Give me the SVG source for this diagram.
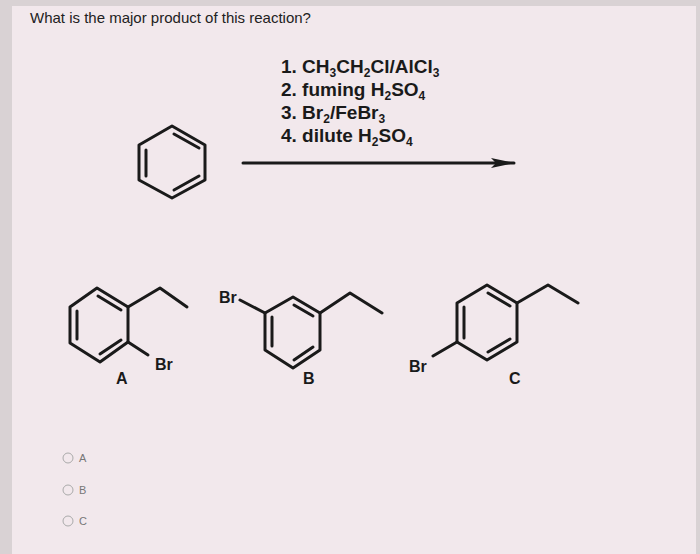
<svg xmlns="http://www.w3.org/2000/svg" width="700" height="554" viewBox="0 0 700 554">
<style>
.b{stroke:#1a1a1a;stroke-width:3;fill:none;stroke-linejoin:round;stroke-linecap:round}
.r{font-family:"Liberation Sans",Arial,sans-serif;font-weight:bold;font-size:19px;fill:#1a1a1a}
.s{font-size:12px}
.l{font-family:"Liberation Sans",Arial,sans-serif;font-weight:bold;font-size:16px;fill:#1a1a1a}
.q{font-family:"Liberation Sans",Arial,sans-serif;font-size:15px;fill:#222}
.o{font-family:"Liberation Sans",Arial,sans-serif;font-size:11px;fill:#777}
</style>
<defs><marker id="ah" markerWidth="24" markerHeight="10" refX="23" refY="5" orient="auto" markerUnits="userSpaceOnUse"><path d="M0,0 L24,5 L0,10 L5,5 Z" fill="#1a1a1a"/></marker></defs>
<rect width="700" height="554" fill="#d9d2d4"/>
<rect x="12" y="6" width="684" height="548" fill="#f2e8ec"/>
<text class="q" x="30" y="23">What is the major product of this reaction?</text>
<g id="reagents">
<text class="r" x="281" y="73">1. CH<tspan class="s" dy="4">3</tspan><tspan dy="-4">CH</tspan><tspan class="s" dy="4">2</tspan><tspan dy="-4">Cl/AlCl</tspan><tspan class="s" dy="4">3</tspan></text>
<text class="r" x="281" y="96">2. fuming H<tspan class="s" dy="4">2</tspan><tspan dy="-4">SO</tspan><tspan class="s" dy="4">4</tspan></text>
<text class="r" x="281" y="119">3. Br<tspan class="s" dy="4">2</tspan><tspan dy="-4">/FeBr</tspan><tspan class="s" dy="4">3</tspan></text>
<text class="r" x="281" y="142">4. dilute H<tspan class="s" dy="4">2</tspan><tspan dy="-4">SO</tspan><tspan class="s" dy="4">4</tspan></text>
</g>
<g id="connectors"><line class="b" x1="243" y1="163" x2="514" y2="163" marker-end="url(#ah)"/></g>
<g id="benzene">
<path class="b" d="M172,126 L205,145 L205,180 L172,198 L139,180 L139,145 Z"/>
<path class="b" d="M174,134 L199,148 M146,150 L146,176 M174,190 L199,176"/>
</g>
<g id="molA">
<path class="b" d="M97,288 L128,307 L128,342 L100,362 L70,343 L70,307 Z"/>
<path class="b" d="M98,296 L121,310 M77,311 L77,339 M100,354 L121,340"/>
<path class="b" d="M128,307 L160,288 L187,307 M128,342 L148,355"/>
<text class="l" x="155" y="370">Br</text>
<text class="l" x="116" y="384">A</text>
</g>
<g id="molB">
<path class="b" d="M293,297 L320,313 L320,350 L293,368 L265,350 L265,313 Z"/>
<path class="b" d="M294,305 L313,316 M272,317 L272,346 M294,360 L313,347"/>
<path class="b" d="M320,313 L350,293 L382,313 M265,313 L240,300"/>
<text class="l" x="219" y="303">Br</text>
<text class="l" x="303" y="384">B</text>
</g>
<g id="molC">
<path class="b" d="M487,285 L517,303 L517,342 L487,360 L457,342 L457,303 Z"/>
<path class="b" d="M488,293 L510,306 M464,307 L464,338 M488,352 L510,339"/>
<path class="b" d="M517,303 L548,285 L578,303 M457,342 L433,356"/>
<text class="l" x="409" y="372">Br</text>
<text class="l" x="509" y="384">C</text>
</g>
<g id="options">
<circle cx="68" cy="458" r="5" fill="none" stroke="#aaa"/><text class="o" x="79" y="462">A</text>
<circle cx="68" cy="490" r="5" fill="none" stroke="#aaa"/><text class="o" x="79" y="494">B</text>
<circle cx="68" cy="521" r="5" fill="none" stroke="#aaa"/><text class="o" x="79" y="525">C</text>
</g>
</svg>
